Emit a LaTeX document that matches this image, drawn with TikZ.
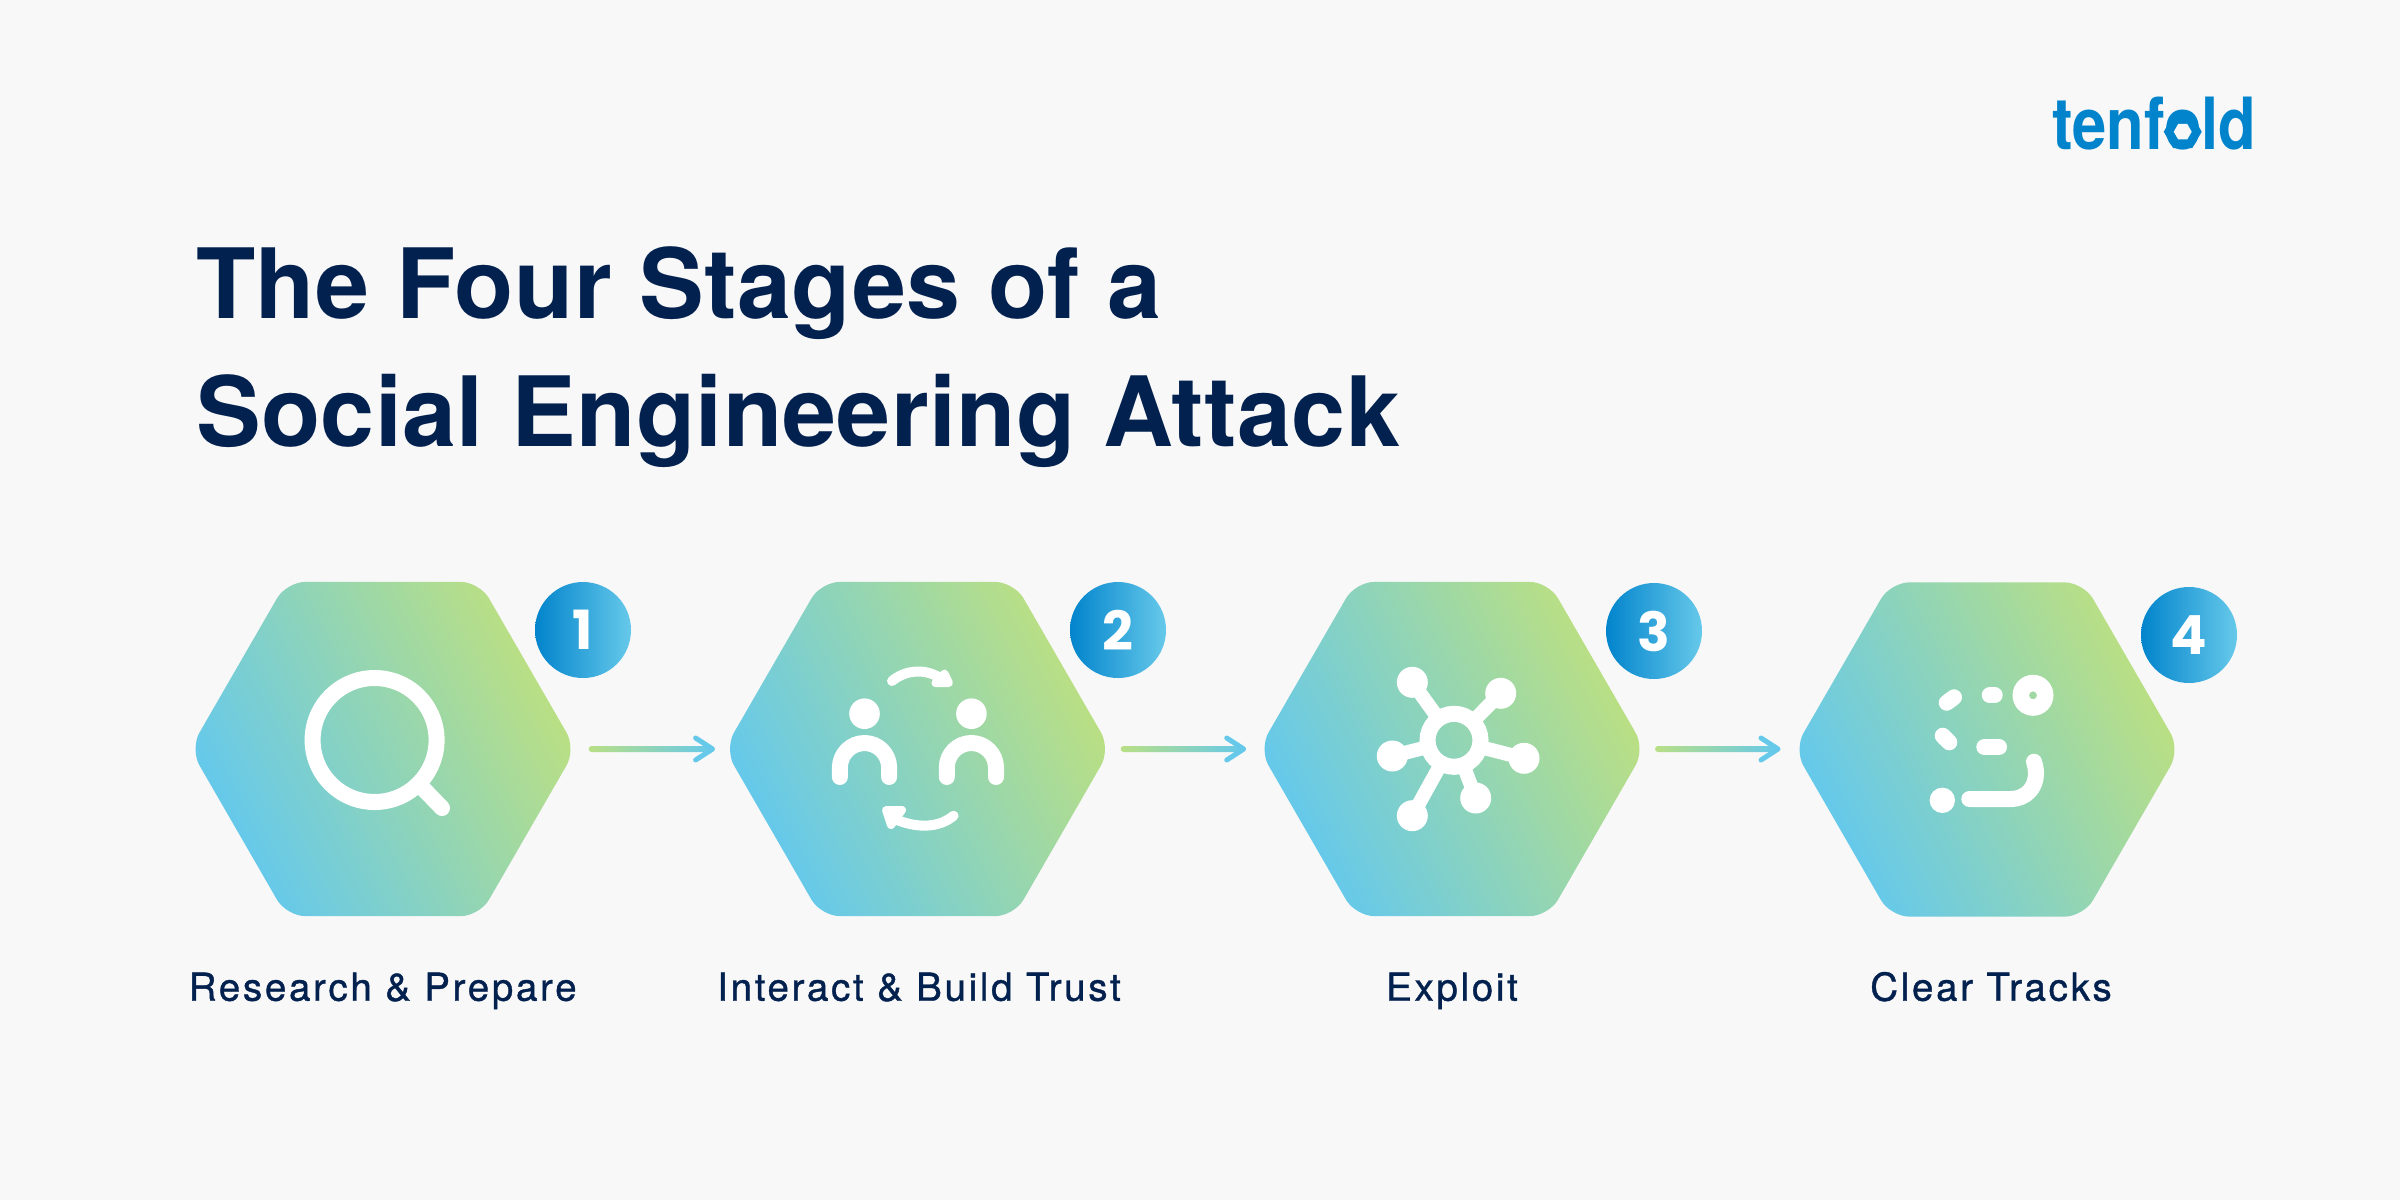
\documentclass[tikz,border=0pt]{standalone}
\usepackage{fontspec}
\usetikzlibrary{calc}
\usetikzlibrary{shapes.geometric}
\setmainfont{TeX Gyre Heros}
\newfontfamily\numfont{Poppins}[BoldFont=* Bold]
\newfontfamily\headfont{TeX Gyre Heros}[BoldFont=* Bold,LetterSpace=0.4]
\newfontfamily\labelfont{TeX Gyre Heros}[LetterSpace=7,FakeBold=1]
\definecolor{pagebg}{HTML}{F8F8F8}
\definecolor{inkblue}{HTML}{03214F}
\definecolor{logoblue}{HTML}{0284CC}
\definecolor{hexblue}{HTML}{66C9EA}
\definecolor{hexgreen}{HTML}{B9DF85}
\pgfdeclareverticalshading{hexfade}{100bp}{color(0bp)=(hexblue); color(27.1bp)=(hexblue); color(72.9bp)=(hexgreen); color(100bp)=(hexgreen)}
\tikzset{
    stagehex/.style={regular polygon,regular polygon sides=6,minimum size=386pt,
        inner sep=0pt,outer sep=0pt,rounded corners=19pt,shading=hexfade,shading angle=-62.7},
    badge/.style={circle,minimum size=96pt,inner sep=0pt,outer sep=0pt,left color=logoblue,right color=hexblue,
        text=white,font=\numfont\bfseries\fontsize{54}{54}\selectfont},
    stagelabel/.style={anchor=base,text=inkblue,font=\labelfont\fontsize{38.5}{38.5}\selectfont},
    headline/.style={anchor=base west,inner sep=0pt,text=inkblue,font=\headfont\bfseries\fontsize{97}{97}\selectfont},
    nutpart/.style={regular polygon,regular polygon sides=6,inner sep=0pt},
    ink/.style={white,line width=16pt,line cap=round,line join=round},
    spoke/.style={white,line width=14pt},
    tiphead/.style={fill=white,draw=white,line width=8pt,line join=round},
}
\begin{document}
\begin{tikzpicture}[x=1pt,y=-1pt]
    \fill[pagebg] (0,0) rectangle (2400,1200);
    \useasboundingbox (0,0) rectangle (2400,1200);
    % title and logo
    \node[headline] (headone) at (196,318) {The Four Stages of a};
    \node[headline] (headtwo) at (196,446) {Social Engineering Attack};
    \node[anchor=base west,inner sep=0pt,text=logoblue,font=\bfseries\fontsize{72}{72}\selectfont,xscale=0.855] (logo) at (2052,149) {tenfold};
    \node[nutpart,minimum size=38pt,fill=logoblue] (logonut) at (2182.7,131.7) {};
    \node[nutpart,minimum size=18pt,fill=pagebg] (logohole) at (2182.7,131.7) {};
    % hexagons
    \node[stagehex] (hexa) at (383,749) {};
    \node[stagehex] (hexb) at (917.5,749) {};
    \node[stagehex] (hexc) at (1452,749) {};
    \node[stagehex] (hexd) at (1987,749.5) {};
    \node[badge] (numa) at (583,630) {1};
    \node[badge] (numb) at (1118,630) {2};
    \node[badge] (numc) at (1654,631) {3};
    \node[badge] (numd) at (2189,635) {4};
    \node[stagelabel] (laba) at (382.7,1000.7) {Research \& Prepare};
    \node[stagelabel] (labb) at (919,1000.7) {Interact \& Build Trust};
    \node[stagelabel] (labc) at (1452,1000.7) {Exploit};
    \node[stagelabel] (labd) at (1991,1000.7) {Clear Tracks};
    % arrows
    \foreach \from/\gap/\len in {hexa/205.6/126,hexb/203.2/125,hexc/203/125}{
        \coordinate (s) at ($(\from.center)+(\gap,0)$);
        \coordinate (e) at ($(s)+(\len,0)$);
        \shade[left color=hexgreen,right color=hexblue,rounded corners=3pt] ($(s)+(0,-3)$) rectangle ($(e)+(-3,3)$);
        \draw[hexblue,line width=5pt,line cap=round,line join=round] ($(e)+(-19,-11)$) -- ($(e)+(-2,0)$) -- ($(e)+(-19,11)$);
    }
    % search
    \draw[ink] (374.6,740) circle (62);
    \draw[ink] (423.6,789) -- (442,808);
    % people
    \foreach \cx in {864.5,971.4}{
        \fill[white] (\cx,713.7) circle (15.3);
        \draw[ink] (\cx-24.6,777) -- (\cx-24.6,767.6) arc[start angle=180,end angle=360,radius=24.6] -- (\cx+24.6,777);
    }
    \draw[white,line width=10pt,line cap=round] (892,681) .. controls (905,670) and (925,668) .. (940,678);
    \draw[tiphead] (944.5,673.5) -- (949,683) -- (935.5,683) -- cycle;
    \draw[white,line width=10pt,line cap=round] (953.6,815.7) .. controls (940,827) and (920,829) .. (897,820);
    \draw[tiphead] (886,810) -- (902,810) -- (891,825) -- cycle;
    % exploit
    \coordinate (hub) at (1454,740.3);
    \foreach \sx/\sy in {1412.3/682.3,1500.7/693.3,1524/758.3,1475.7/798,1412.3/815.7,1392.3/756}{
        \fill[white] (\sx,\sy) circle (15.5);
        \draw[spoke] ($(hub)!26pt!(\sx,\sy)$) -- (\sx,\sy);
    }
    \draw[white,line width=16pt] (hub) circle (26.5);
    % tracks
    \fill[white,even odd rule] (2033,695.3) circle (20.5) (2033,695.3) circle (4);
    \draw[ink] (1989.7,695.3) -- (1994.7,695.3);
    \draw[ink] (1946.7,702.7) -- (1954,697.3);
    \draw[ink] (1942.7,735.7) -- (1949.3,742.3);
    \draw[ink] (1984.3,747) -- (1999,747);
    \fill[white] (1942.3,800.3) circle (12.7);
    \draw[ink] (1969.3,799) -- (2010,799) .. controls (2027,799) and (2036,787) .. (2036,773.3) .. controls (2036,769) and (2035,765) .. (2034,761.7);
\end{tikzpicture}
\end{document}
